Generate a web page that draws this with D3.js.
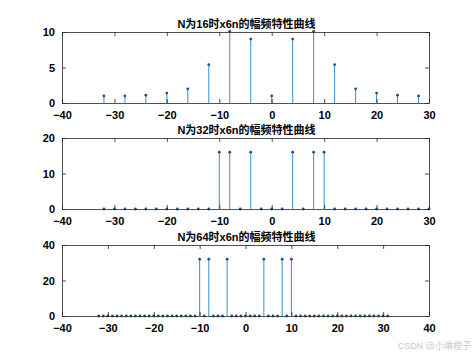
<!DOCTYPE html>
<html lang="zh">
<head>
<meta charset="UTF-8">
<title>幅频特性曲线</title>
<script src="https://d3js.org/d3.v7.min.js"></script>
<style>
  body { margin: 0; background: #fff; }
  svg text { font-family: "Liberation Sans", Arial, "Noto Sans CJK SC", sans-serif; font-weight: bold; }
  .tick text { font-size: 11px; fill: #000; }
  .stem { stroke: #0072bd; stroke-width: 0.8; }
  .dot { fill: #1b4f8a; }
</style>
</head>
<body>
<svg width="474" height="355"></svg>
<script>
// N = 16, k = -32:4:28
const n16 = [-32, -28, -24, -20, -16, -12, -8, -4, 0, 4, 8, 12, 16, 20, 24, 28];
const v16 = [1.0, 1.0, 1.1, 1.4, 2.0, 5.4, 10.1, 9.0, 1.0, 9.0, 10.1, 5.4, 2.0, 1.4, 1.1, 1.0];

// N = 32, k = -32:2:30
const n32 = [-32, -30, -28, -26, -24, -22, -20, -18, -16, -14, -12, -10, -8, -6, -4, -2,
             0, 2, 4, 6, 8, 10, 12, 14, 16, 18, 20, 22, 24, 26, 28, 30];
const v32 = [0, 0, 0, 0, 0, 0, 0, 0, 0, 0, 0, 16, 16, 0, 16, 0,
             0, 0, 16, 0, 16, 16, 0, 0, 0, 0, 0, 0, 0, 0, 0, 0];

// N = 64, k = -32:31
const n64 = [-32, -31, -30, -29, -28, -27, -26, -25, -24, -23, -22, -21, -20, -19, -18, -17,
             -16, -15, -14, -13, -12, -11, -10, -9, -8, -7, -6, -5, -4, -3, -2, -1,
             0, 1, 2, 3, 4, 5, 6, 7, 8, 9, 10, 11, 12, 13, 14, 15,
             16, 17, 18, 19, 20, 21, 22, 23, 24, 25, 26, 27, 28, 29, 30, 31];
const v64 = [0, 0, 0, 0, 0, 0, 0, 0, 0, 0, 0, 0, 0, 0, 0, 0,
             0, 0, 0, 0, 0, 0, 32, 0, 32, 0, 0, 0, 32, 0, 0, 0,
             0, 0, 0, 0, 32, 0, 0, 0, 32, 0, 32, 0, 0, 0, 0, 0,
             0, 0, 0, 0, 0, 0, 0, 0, 0, 0, 0, 0, 0, 0, 0, 0];

const titles = ["N为16时x6n的幅频特性曲线", "N为32时x6n的幅频特性曲线", "N为64时x6n的幅频特性曲线"];
const xTicks = [[-40, -30, -20, -10, 0, 10, 20, 30], [-40, -30, -20, -10, 0, 10, 20, 30],
                [-40, -30, -20, -10, 0, 10, 20, 30, 40]];
const yTicks = [[0, 5, 10], [0, 10, 20], [0, 20, 40]];

const svg = d3.select("svg");
const left = 62, right = 429;

const panels = [
  {n: n16, v: v16, top: 32, bottom: 103, xd: [-40, 30], yd: [0, 10]},
  {n: n32, v: v32, top: 138, bottom: 209, xd: [-40, 30], yd: [0, 20]},
  {n: n64, v: v64, top: 245, bottom: 316, xd: [-40, 40], yd: [0, 40]}
];

panels.forEach((p, i) => {
  const x = d3.scaleLinear().domain(p.xd).range([left, right]);
  const y = d3.scaleLinear().domain(p.yd).range([p.bottom, p.top]);
  const g = svg.append("g");
  const h = p.bottom - p.top, w = right - left;

  // stems
  const data = p.n.map((d, j) => ({n: d, v: p.v[j]}));
  g.selectAll(".stem").data(data).enter().append("line")
    .attr("class", "stem")
    .attr("x1", d => x(d.n)).attr("x2", d => x(d.n))
    .attr("y1", y(0)).attr("y2", d => y(d.v));
  g.selectAll(".dot").data(data).enter().append("circle")
    .attr("class", "dot")
    .attr("cx", d => x(d.n)).attr("cy", d => y(d.v))
    .attr("r", 1.4);

  // axes, ticks inward, box
  const ax = g.append("g").attr("transform", `translate(0,${p.bottom})`)
    .call(d3.axisBottom(x).tickValues(xTicks[i]).tickSizeInner(-4).tickSizeOuter(0).tickPadding(8));
  const axTop = g.append("g").attr("transform", `translate(0,${p.top})`)
    .call(d3.axisTop(x).tickValues(xTicks[i]).tickSizeInner(-4).tickSizeOuter(0).tickFormat(""));
  const ay = g.append("g").attr("transform", `translate(${left},0)`)
    .call(d3.axisLeft(y).tickValues(yTicks[i]).tickSizeInner(-4).tickSizeOuter(0).tickPadding(7));
  const ayR = g.append("g").attr("transform", `translate(${right},0)`)
    .call(d3.axisRight(y).tickValues(yTicks[i]).tickSizeInner(-4).tickSizeOuter(0).tickFormat(""));
  [ax, axTop, ay, ayR].forEach(a => {
    a.selectAll("path.domain").attr("stroke", "#262626").attr("stroke-width", 0.8);
    a.selectAll(".tick line").attr("stroke", "#262626").attr("stroke-width", 0.8);
  });

  g.append("text")
    .attr("x", (left + right) / 2 + 1)
    .attr("y", p.top - 4)
    .attr("text-anchor", "middle")
    .attr("font-size", 11)
    .text(titles[i]);
});

svg.append("text")
  .attr("x", 471).attr("y", 349)
  .attr("text-anchor", "end")
  .attr("font-size", 9)
  .attr("font-weight", "normal")
  .style("font-weight", "normal")
  .attr("fill", "#c8c8c8")
  .text("CSDN @小琳橙子");
</script>
</body>
</html>
